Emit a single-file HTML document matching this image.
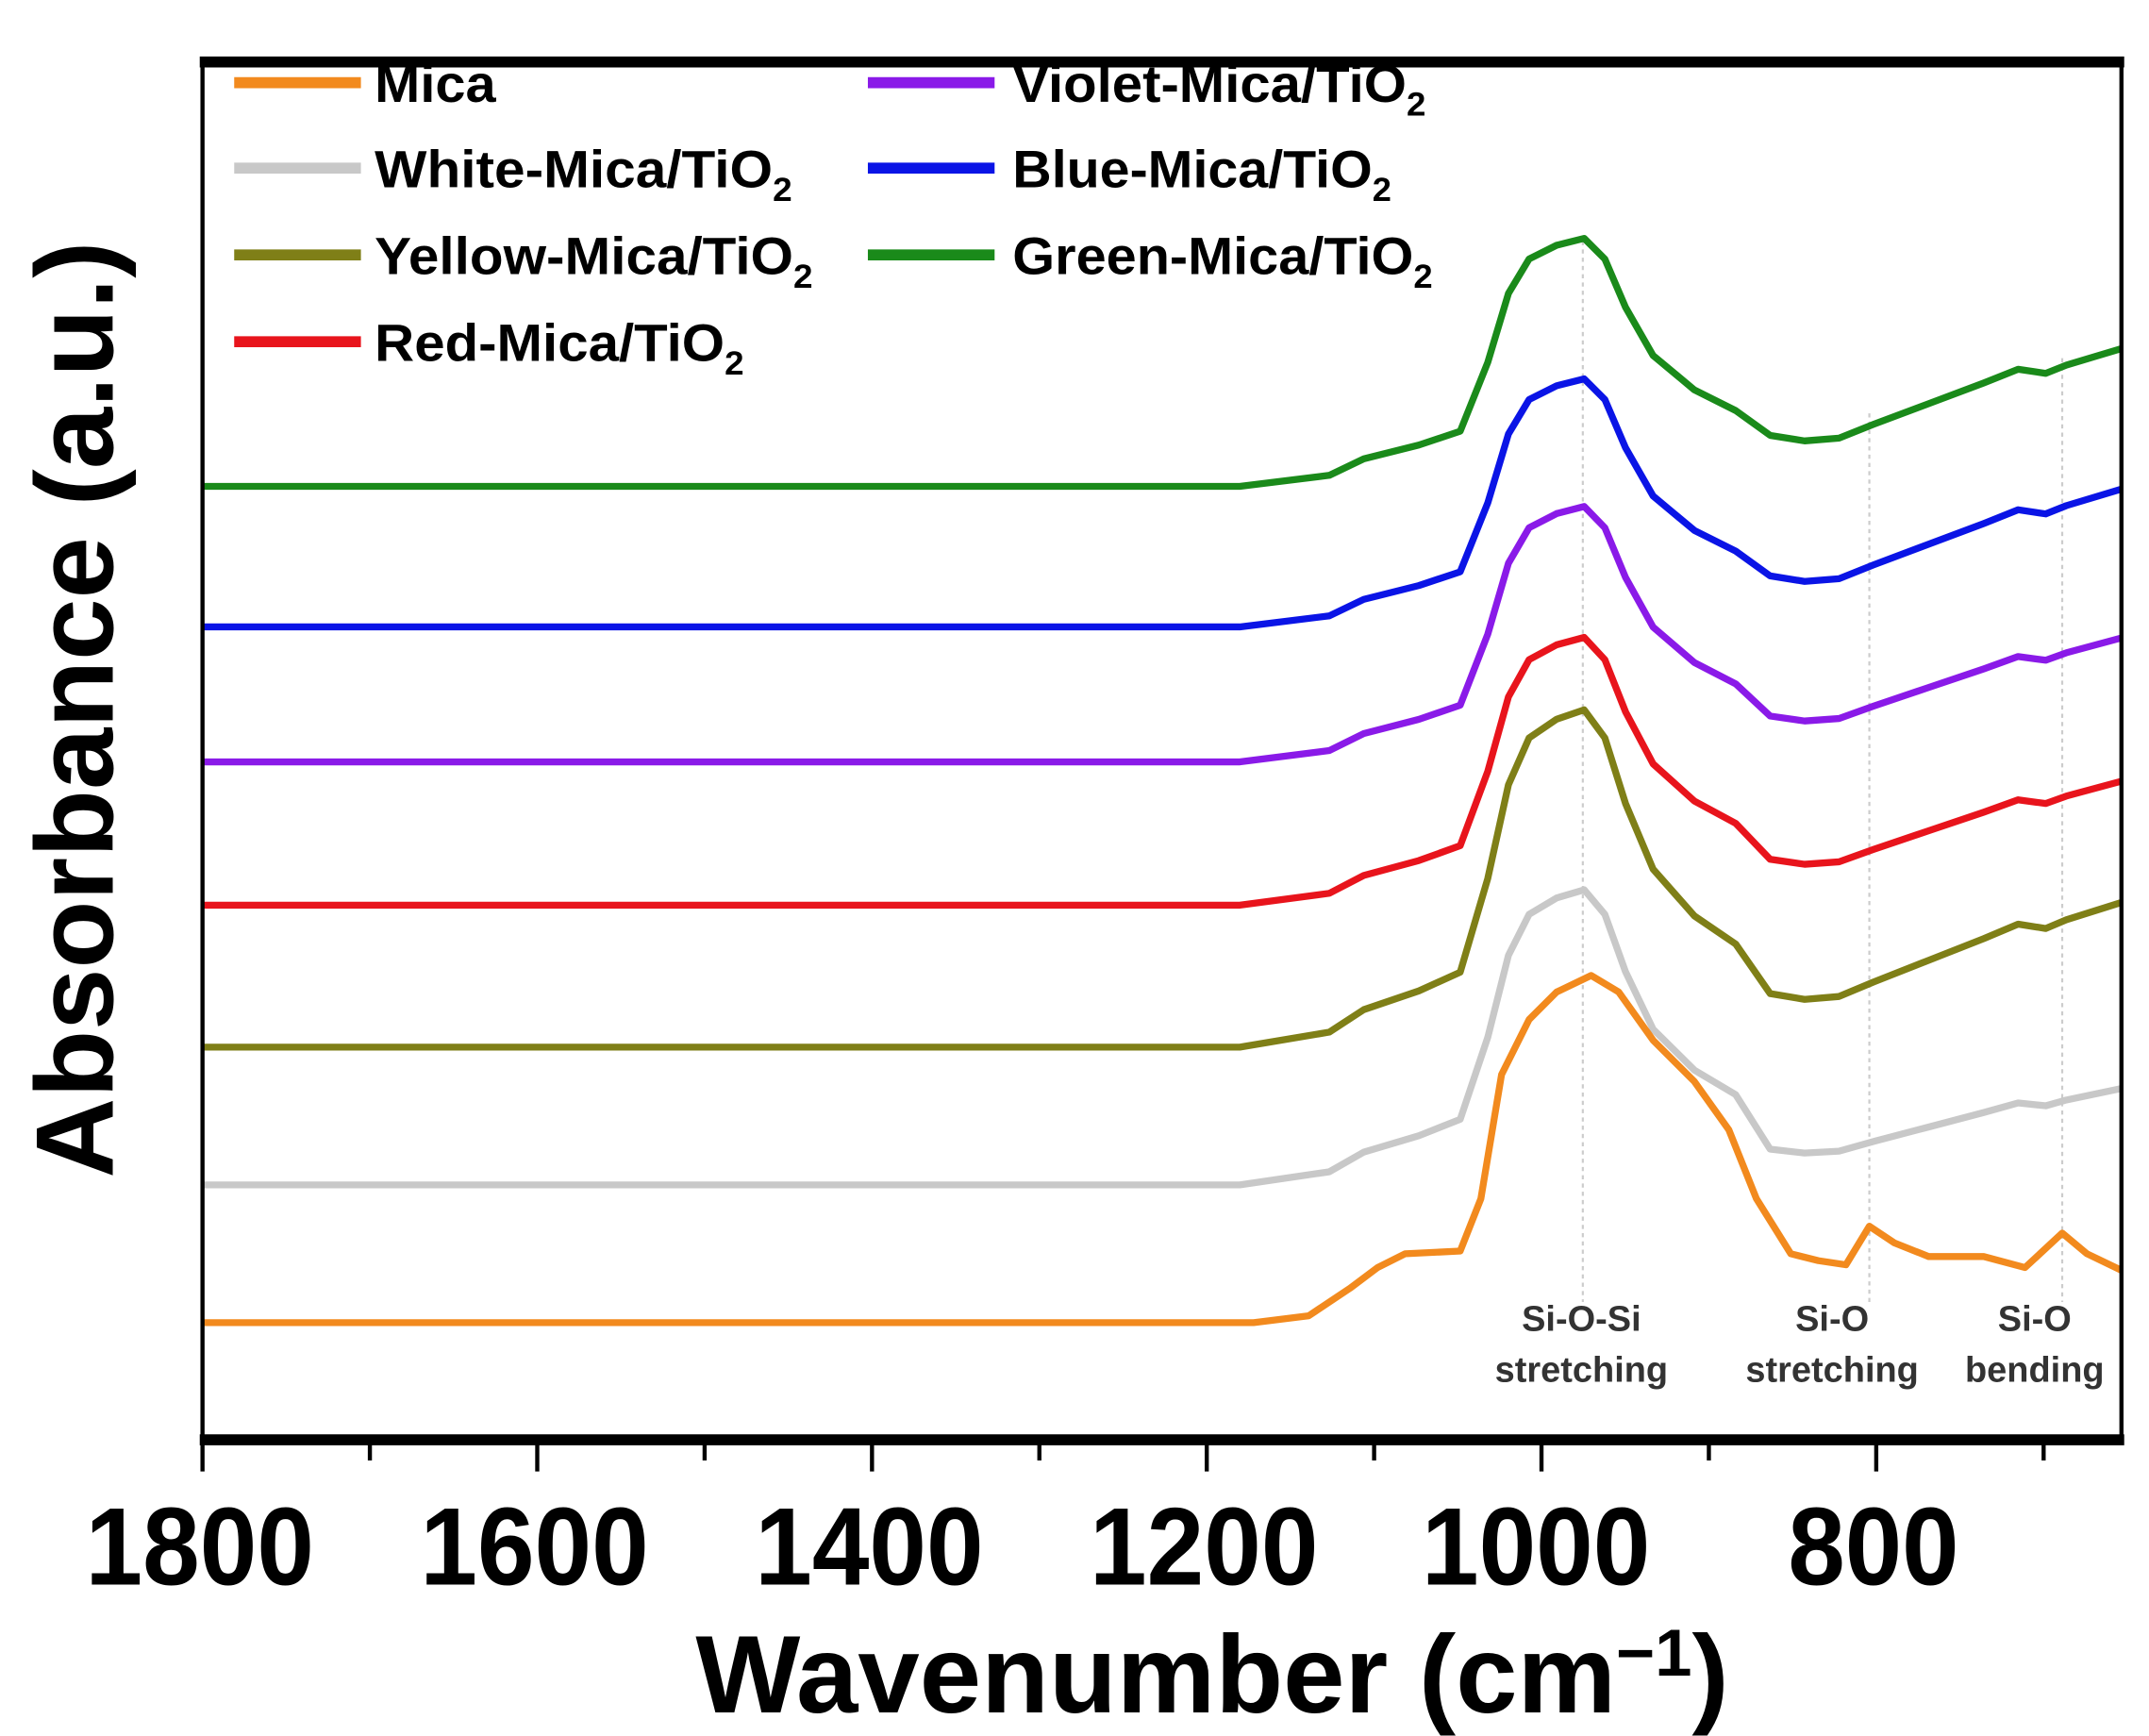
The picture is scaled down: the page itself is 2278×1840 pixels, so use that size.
<!DOCTYPE html>
<html><head><meta charset="utf-8"><style>
html,body{margin:0;padding:0;background:#fff;}
svg{display:block}
text{font-family:"Liberation Sans",sans-serif;font-weight:bold;}
</style></head><body>
<svg id="s" width="2278" height="1840" viewBox="0 0 1560 1260" preserveAspectRatio="none" xmlns="http://www.w3.org/2000/svg">
<rect x="0" y="0" width="1560" height="1260" fill="#fff"/>
<g stroke="#ccc" stroke-width="1.5" stroke-dasharray="3,3">
<line x1="1149" y1="175" x2="1149" y2="945"/>
<line x1="1357" y1="300" x2="1357" y2="945"/>
<line x1="1497" y1="260" x2="1497" y2="945"/>
</g>
<g id="curves" fill="none" stroke-width="5" stroke-linejoin="round"></g>
<g fill="#333" font-size="26" text-anchor="middle">
<text x="1148" y="966">Si-O-Si</text><text x="1148" y="1003">stretching</text>
<text x="1330" y="966">Si-O</text><text x="1330" y="1003">stretching</text>
<text x="1477" y="966">Si-O</text><text x="1477" y="1003">bending</text>
</g>
<rect x="147" y="45" width="1393" height="1000" fill="none" stroke="#000" stroke-width="3"/>
<line x1="145" y1="45" x2="1542" y2="45" stroke="#000" stroke-width="8"/>
<line x1="145" y1="1045" x2="1542" y2="1045" stroke="#000" stroke-width="8"/>
<g id="ticks" stroke="#000" stroke-width="3"></g>
<g font-size="80" fill="#000" lengthAdjust="spacingAndGlyphs">
<text x="62" y="1150" textLength="166" lengthAdjust="spacingAndGlyphs">1800</text>
<text x="305" y="1150" textLength="166" lengthAdjust="spacingAndGlyphs">1600</text>
<text x="548" y="1150" textLength="166" lengthAdjust="spacingAndGlyphs">1400</text>
<text x="791" y="1150" textLength="166" lengthAdjust="spacingAndGlyphs">1200</text>
<text x="1032" y="1150" textLength="166" lengthAdjust="spacingAndGlyphs">1000</text>
<text x="1298" y="1150" textLength="124" lengthAdjust="spacingAndGlyphs">800</text>
<text x="505" y="1243" font-size="80" textLength="750" lengthAdjust="spacingAndGlyphs">Wavenumber (cm<tspan baseline-shift="super" font-size="48">−1</tspan>)</text>
<text transform="translate(82,855) rotate(-90)" font-size="80" textLength="680" lengthAdjust="spacingAndGlyphs">Absorbance (a.u.)</text>
</g>
<g font-size="38" fill="#000">
<line x1="170" y1="60" x2="262" y2="60" stroke="#f28a1e" stroke-width="8"/><text x="272" y="74" textLength="88" lengthAdjust="spacingAndGlyphs">Mica</text>
<line x1="170" y1="122" x2="262" y2="122" stroke="#c8c8c8" stroke-width="8"/><text x="272" y="136" textLength="303" lengthAdjust="spacingAndGlyphs">White-Mica/TiO<tspan font-size="24" dy="10">2</tspan></text>
<line x1="170" y1="185" x2="262" y2="185" stroke="#7f7f17" stroke-width="8"/><text x="272" y="199" textLength="318" lengthAdjust="spacingAndGlyphs">Yellow-Mica/TiO<tspan font-size="24" dy="10">2</tspan></text>
<line x1="170" y1="248" x2="262" y2="248" stroke="#e8141c" stroke-width="8"/><text x="272" y="262" textLength="268" lengthAdjust="spacingAndGlyphs">Red-Mica/TiO<tspan font-size="24" dy="10">2</tspan></text>
<line x1="630" y1="60" x2="722" y2="60" stroke="#8a1ae8" stroke-width="8"/><text x="735" y="74" textLength="300" lengthAdjust="spacingAndGlyphs">Violet-Mica/TiO<tspan font-size="24" dy="10">2</tspan></text>
<line x1="630" y1="122" x2="722" y2="122" stroke="#0a14e6" stroke-width="8"/><text x="735" y="136" textLength="275" lengthAdjust="spacingAndGlyphs">Blue-Mica/TiO<tspan font-size="24" dy="10">2</tspan></text>
<line x1="630" y1="185" x2="722" y2="185" stroke="#1a8a1a" stroke-width="8"/><text x="735" y="199" textLength="305" lengthAdjust="spacingAndGlyphs">Green-Mica/TiO<tspan font-size="24" dy="10">2</tspan></text>
</g>
</svg>
<script>
var NS="http://www.w3.org/2000/svg";
var t=document.getElementById('ticks');
for(var i=0;i<12;i++){var x=147+i*121.5;if(x>1541)break;var l=document.createElementNS(NS,'line');l.setAttribute('x1',x);l.setAttribute('x2',x);l.setAttribute('y1',1045);l.setAttribute('y2',i%2?1060:1068);t.appendChild(l);}
var gen=[[147,0],[900,0],[965,-8],[990,-20],[1030,-30],[1060,-40],[1080,-90],[1095,-140],[1110,-165],[1130,-175],[1150,-180],[1165,-165],[1180,-130],[1200,-95],[1230,-70],[1260,-55],[1285,-37],[1310,-33],[1335,-35],[1360,-45],[1400,-60],[1440,-75],[1465,-85],[1485,-82],[1500,-88],[1540,-100]];
var mica=[[147,0],[910,0],[950,-5],[980,-25],[1000,-40],[1020,-50],[1060,-52],[1075,-90],[1090,-180],[1110,-220],[1130,-240],[1155,-252],[1175,-240],[1200,-205],[1230,-175],[1255,-140],[1275,-90],[1300,-50],[1320,-45],[1340,-42],[1357,-70],[1375,-58],[1400,-48],[1440,-48],[1470,-40],[1497,-65],[1515,-50],[1540,-38]];
var series=[["#1a8a1a",353,1,1],["#0a14e6",455,1,1],["#8a1ae8",553,1.03,0.9],["#e8141c",657,1.08,0.9],["#7f7f17",760,1.36,1.05],["#c8c8c8",860,1.19,0.7]];
var g=document.getElementById('curves');
function add(c,pts){var p=document.createElementNS(NS,'polyline');p.setAttribute('points',pts.join(' '));p.setAttribute('stroke',c);g.appendChild(p);}
series.forEach(function(s){add(s[0],gen.map(function(q){var f=q[0]>1260?s[3]:s[2];return q[0]+','+(s[1]+q[1]*f);}));});
add("#f28a1e",mica.map(function(q){return q[0]+','+(960+q[1]);}));
</script>
</body></html>
